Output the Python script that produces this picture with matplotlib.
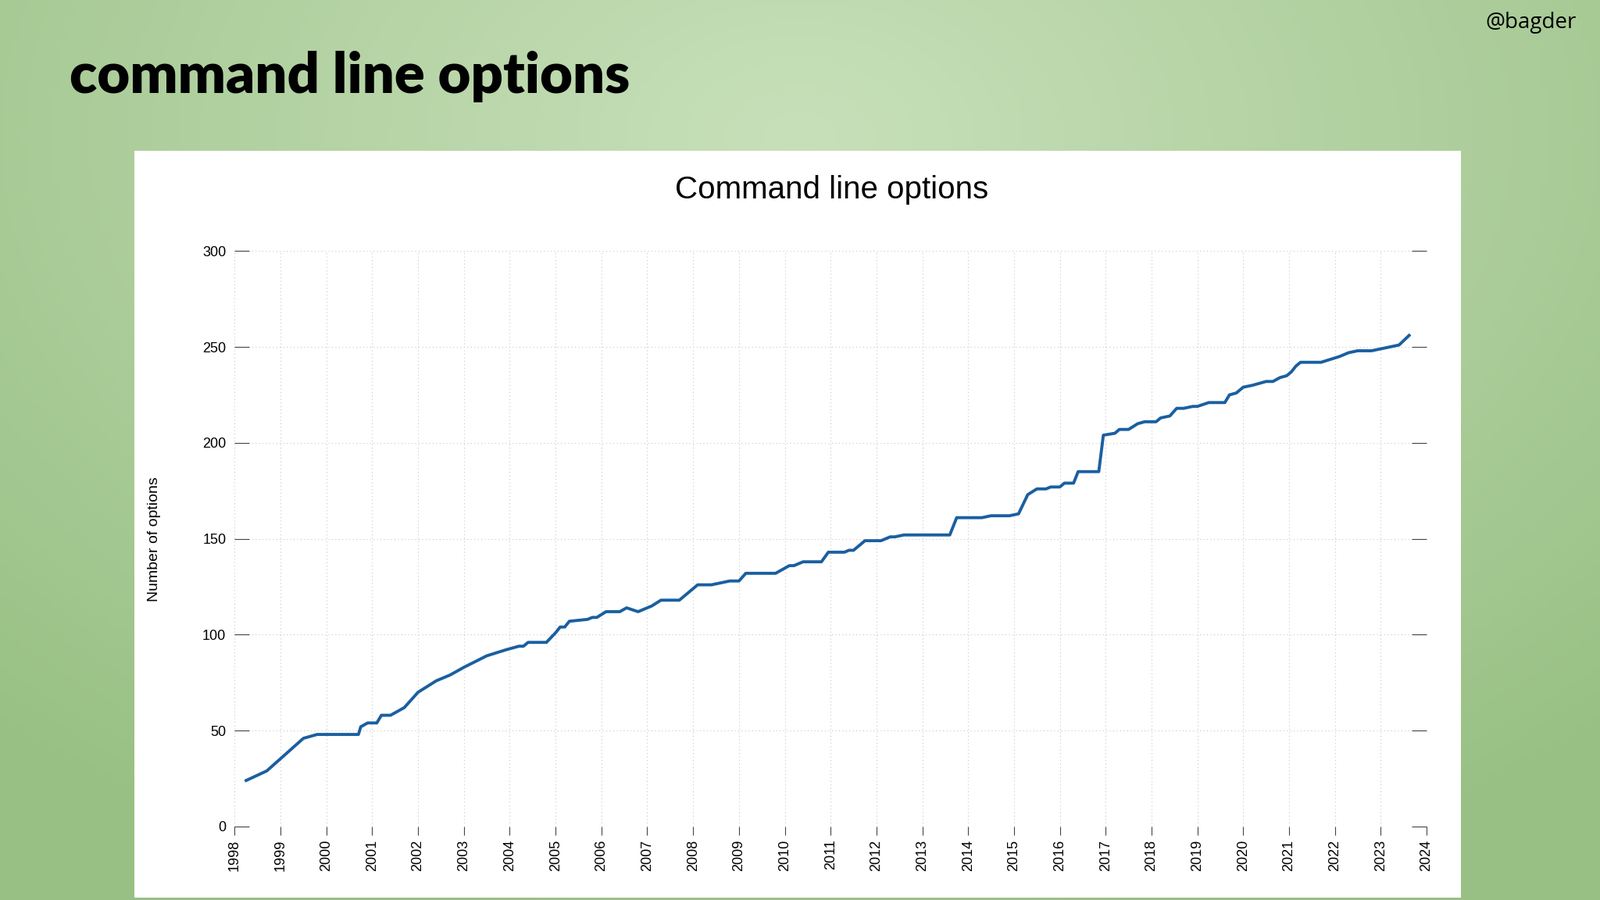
import numpy as np
import matplotlib
matplotlib.use("Agg")
import matplotlib.pyplot as plt

years = [1998.25, 1998.7, 1999.5, 1999.8, 2000.7, 2000.75, 2000.9, 2001.1, 2001.2, 2001.4,
         2001.7, 2002.0, 2002.4, 2002.7, 2003.0, 2003.5, 2003.9, 2004.2, 2004.3, 2004.4,
         2004.8, 2005.0, 2005.1, 2005.2, 2005.3, 2005.7, 2005.8, 2005.9, 2006.1, 2006.4,
         2006.55, 2006.8, 2007.1, 2007.3, 2007.7, 2008.0, 2008.1, 2008.4, 2008.8, 2009.0,
         2009.15, 2009.8, 2010.1, 2010.2, 2010.4, 2010.8, 2010.95, 2011.3, 2011.4, 2011.5,
         2011.75, 2012.1, 2012.3, 2012.4, 2012.6, 2013.6, 2013.75, 2014.3, 2014.5, 2014.9,
         2015.1, 2015.3, 2015.5, 2015.7, 2015.8, 2016.0, 2016.1, 2016.3, 2016.4, 2016.85,
         2016.95, 2017.2, 2017.3, 2017.5, 2017.7, 2017.85, 2018.1, 2018.2, 2018.4, 2018.55,
         2018.7, 2018.9, 2019.0, 2019.25, 2019.6, 2019.7, 2019.85, 2020.0, 2020.2, 2020.5,
         2020.65, 2020.8, 2020.95, 2021.05, 2021.15, 2021.25, 2021.7, 2022.1, 2022.3, 2022.5,
         2022.8, 2023.0, 2023.2, 2023.4, 2023.62]
options = [24, 29, 46, 48, 48, 52, 54, 54, 58, 58,
           62, 70, 76, 79, 83, 89, 92, 94, 94, 96,
           96, 101, 104, 104, 107, 108, 109, 109, 112, 112,
           114, 112, 115, 118, 118, 124, 126, 126, 128, 128,
           132, 132, 136, 136, 138, 138, 143, 143, 144, 144,
           149, 149, 151, 151, 152, 152, 161, 161, 162, 162,
           163, 173, 176, 176, 177, 177, 179, 179, 185, 185,
           204, 205, 207, 207, 210, 211, 211, 213, 214, 218,
           218, 219, 219, 221, 221, 225, 226, 229, 230, 232,
           232, 234, 235, 237, 240, 242, 242, 245, 247, 248,
           248, 249, 250, 251, 256]
x_ticks = list(range(1998, 2025))
y_ticks = [0, 50, 100, 150, 200, 250, 300]

W, H = 1568, 882
fig = plt.figure(figsize=(20.48, 11.52), dpi=100)

# green gradient background
bg = fig.add_axes([0, 0, 1, 1])
yy, xx = np.mgrid[0:1:200j, 0:1:360j]
d = np.sqrt(((xx - 0.5) * 1.2) ** 2 + (yy - 0.15) ** 2)
d = np.clip(d / 0.9, 0, 1)
c0 = np.array([200, 224, 186]) / 255
c1 = np.array([152, 192, 132]) / 255
img = c0 + (c1 - c0) * d[..., None]
bg.imshow(img, aspect="auto", extent=[0, 1, 0, 1], origin="upper")
bg.axis("off")

fig.text(68 / W, 1 - 75 / H, "command line options", fontsize=52, fontweight="black",
         family="Lato", va="center", ha="left")
fig.text(1545 / W, 1 - 22 / H, "@bagder", fontsize=20, family="Open Sans",
         va="center", ha="right")

# white panel
panel = fig.add_axes([132 / W, 1 - 880 / H, 1300 / W, 732 / H])
panel.set_facecolor("white")
panel.set_xticks([]); panel.set_yticks([])
for s in panel.spines.values():
    s.set_visible(False)
fig.text(815 / W, 1 - 186 / H, "Command line options", fontsize=29,
         family="Liberation Sans", ha="center", va="center")

ax = fig.add_axes([230 / W, 1 - 810 / H, 1168 / W, 564 / H])
ax.set_facecolor("none")
ax.plot(years, options, color="#1a5fa0", lw=2.8)
ax.set_xlim(1998, 2024)
ax.set_ylim(0, 300)
ax.set_xticks(x_ticks)
ax.set_xticklabels([str(y) for y in x_ticks], rotation=90, fontsize=13, family="Liberation Sans")
ax.set_yticks(y_ticks)
ax.set_yticklabels([str(y) for y in y_ticks], fontsize=13, family="Liberation Sans")
ax.grid(True, ls=(0, (1, 3)), color="#c8c8c8", lw=0.8)
for s in ax.spines.values():
    s.set_visible(False)
ax.tick_params(axis="y", direction="in", length=14, color="#444444", right=True, pad=8)
ax.tick_params(axis="x", direction="out", length=8, color="#444444", pad=4)
ax.set_ylabel("Number of options", fontsize=14, family="Liberation Sans", labelpad=38)

fig.savefig("out.png", dpi=100)
